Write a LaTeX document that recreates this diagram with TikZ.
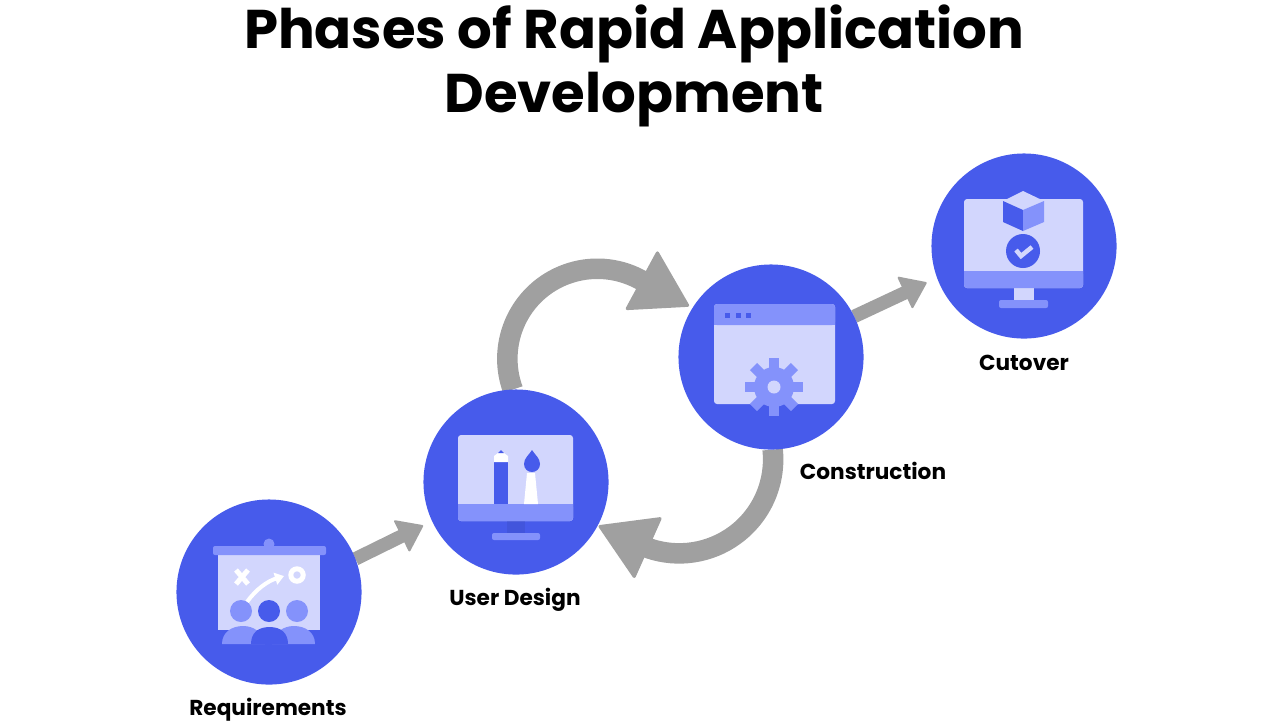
\documentclass[tikz,border=0pt]{standalone}
\usepackage{fontspec}
\usepackage{xcolor}
\setmainfont{Poppins}
\usetikzlibrary{arrows.meta, positioning, backgrounds}

\definecolor{phaseblue}{HTML}{475BEB}
\definecolor{iconmid}{HTML}{8492FB}
\definecolor{iconlight}{HTML}{D2D6FD}
\definecolor{arrowgrey}{HTML}{A0A0A0}

\begin{document}
\begin{tikzpicture}[
        x=0.01cm, y=-0.01cm,
        phase/.style={circle, fill=phaseblue, minimum size=1.85cm, inner sep=0pt, outer sep=0pt},
        phaselabel/.style={font=\fontsize{6.15}{7}\selectfont\bfseries, inner sep=0pt},
        straightarrow/.style={draw=arrowgrey, line width=0.135cm, -{Triangle[length=0.25cm, width=0.36cm, round, line width=0.02cm]}},
        curvedarrow/.style={draw=arrowgrey, line width=0.205cm, -{Triangle[length=0.56cm, width=0.68cm, round, line width=0.03cm]}}
    ]
        \useasboundingbox (0,0) rectangle (1280,720);

        % Title
        \node[font=\fontsize{15.5}{18.2}\selectfont\bfseries, align=center, inner sep=0pt] (title) at (634,66) {Phases of Rapid Application\\Development};

        % Phases
        \node[phase] (requirements) at (269,592) {};
        \node[phase] (design) at (516,482) {};
        \node[phase] (construction) at (771,357) {};
        \node[phase] (cutover) at (1024,246) {};

        % Labels
        \node[phaselabel, below=0.13cm of requirements, xshift=-0.01cm] (requirementslabel) {Requirements};
        \node[phaselabel, below=0.13cm of design, xshift=-0.01cm] (designlabel) {User Design};
        \node[phaselabel] (constructionlabel) at (873,471) {Construction};
        \node[phaselabel, below=0.155cm of cutover] (cutoverlabel) {Cutover};

        % Connections
        \begin{scope}[on background layer]
            \draw[straightarrow, shorten >=0.1cm] (requirements.21) -- (design.205);
            \draw[straightarrow, shorten >=0.115cm] (construction.26) -- (cutover.200);
            \draw[curvedarrow, shorten >=0.04cm] (design.92) arc[start angle=160, end angle=298, radius=90] -- (construction.148);
            \draw[curvedarrow, shorten >=0.01cm] (construction.-89) arc[start angle=-6, end angle=108.6, radius=94] -- (design.-28);
        \end{scope}

        % Requirements icon
        \fill[iconlight] (218,553) rectangle (320,630);
        \fill[iconmid] (269,544) circle (5.5);
        \fill[iconmid, rounded corners=0.02cm] (213,546) rectangle (326,555);
        \draw[white, line width=0.05cm] (236,570) -- (248,584);
        \draw[white, line width=0.05cm] (248,570) -- (236,584);
        \draw[white, line width=0.05cm, fill=iconlight] (297,575) circle (6.2);
        \draw[white, line width=0.04cm, -{Triangle[length=0.09cm, width=0.12cm]}] (247,602) .. controls (256,589) and (268,581) .. (284,576);
        \fill[iconmid] (241,611) circle (11);
        \fill[iconmid] (297,611) circle (11);
        \fill[phaseblue] (269,611) circle (11);
        \fill[iconmid] (222,644) .. controls (222,632) and (232,626) .. (243,626) .. controls (254,626) and (262,632) .. (265,644) -- cycle;
        \fill[iconmid] (315,644) .. controls (315,632) and (305,626) .. (294,626) .. controls (283,626) and (275,632) .. (272,644) -- cycle;
        \fill[phaseblue] (251,644) .. controls (251,633) and (258,627) .. (269.5,627) .. controls (281,627) and (288,633) .. (288,644) -- cycle;

        % User Design icon
        \fill[iconlight, rounded corners=0.03cm] (458,435) rectangle (573,521);
        \fill[iconmid, rounded corners=0.03cm] (458,504) rectangle (573,521);
        \fill[iconmid] (458,504) rectangle (573,512);
        \fill[iconmid, rounded corners=0.02cm] (492,533) rectangle (540,540);
        \fill[black!30!phaseblue, opacity=0.2] (507,521) rectangle (525,533);
        \fill[phaseblue] (494,462) rectangle (508,504);
        \fill[white] (494,462) -- (494,456) -- (498,453) -- (504,453) -- (508,456) -- (508,462) -- cycle;
        \fill[phaseblue] (498,453) -- (501,450) -- (504,453) -- cycle;
        \fill[white] (527,473) -- (535,473) -- (538,504) -- (524,504) -- cycle;
        \fill[phaseblue] (532,450) .. controls (535,455) and (540,458) .. (540,464) .. controls (540,469) and (536,472) .. (532,472) .. controls (528,472) and (524,469) .. (524,464) .. controls (524,458) and (529,455) .. (532,450) -- cycle;

        % Construction icon
        \fill[iconlight, rounded corners=0.03cm] (714,304) rectangle (835,404);
        \fill[iconmid, rounded corners=0.03cm] (714,304) rectangle (835,325);
        \fill[iconmid] (714,315) rectangle (835,325);
        \fill[phaseblue] (724.5,312.5) rectangle (729.5,317.5);
        \fill[phaseblue] (735.5,312.5) rectangle (740.5,317.5);
        \fill[phaseblue] (745.5,312.5) rectangle (750.5,317.5);
        \draw[iconmid, line width=0.1cm] (745,387) -- (803,387);
        \draw[iconmid, line width=0.1cm] (774,358) -- (774,416);
        \draw[iconmid, line width=0.1cm] (753.5,366.5) -- (794.5,407.5);
        \draw[iconmid, line width=0.1cm] (753.5,407.5) -- (794.5,366.5);
        \fill[iconmid] (774,387) circle (20);
        \fill[iconlight] (774,387) circle (6.5);

        % Cutover icon
        \fill[iconlight] (1014,285) rectangle (1034,300);
        \fill[iconlight, rounded corners=0.03cm] (964,199) rectangle (1083,288);
        \fill[iconmid, rounded corners=0.03cm] (964,271) rectangle (1083,288);
        \fill[iconmid] (964,271) rectangle (1083,280);
        \fill[iconmid, rounded corners=0.02cm] (999,300) rectangle (1048,308);
        \fill[iconlight] (1023,191) -- (1044,201) -- (1023,210) -- (1003,201) -- cycle;
        \fill[phaseblue] (1003,201) -- (1023,210) -- (1023,231) -- (1003,222) -- cycle;
        \fill[iconmid] (1023,210) -- (1044,201) -- (1044,222) -- (1023,231) -- cycle;
        \fill[phaseblue] (1023,251) circle (17);
        \draw[iconlight, line width=0.045cm] (1016,250) -- (1021,256) -- (1032,247);
    \end{tikzpicture}
\end{document}
